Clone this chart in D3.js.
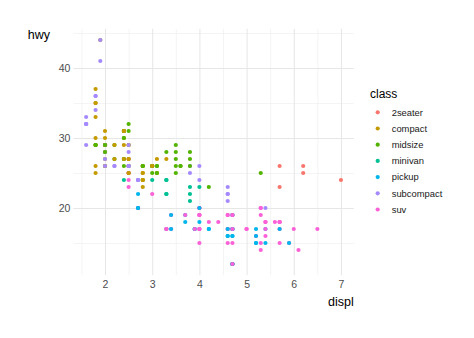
<!DOCTYPE html>
<html><head><meta charset="utf-8">
<script src="https://cdn.jsdelivr.net/npm/d3@7"></script>
<style>body{margin:0;background:#fff}svg{display:block}text{font-family:"Liberation Sans",Arial,sans-serif}</style>
</head><body><svg id="c" width="474" height="338"></svg>
<script>
const classes=["2seater","compact","midsize","minivan","pickup","subcompact","suv"];
const colors=["#F8766D","#C49A00","#53B400","#00C094","#00B6EB","#A58AFF","#FB61D7"];
const displ=[
1.8,1.8,2.0,2.0,2.8,2.8,3.1,
1.8,1.8,2.0,2.0,2.8,2.8,3.1,3.1,
2.8,3.1,4.2,
5.3,5.3,5.3,5.7,6.0,
5.7,5.7,6.2,6.2,7.0,
5.3,5.3,5.7,6.5,
2.4,2.4,3.1,3.5,3.6,
2.4,3.0,3.3,3.3,3.3,3.3,3.3,3.8,3.8,3.8,4.0,
3.7,3.7,3.9,3.9,4.7,4.7,4.7,5.2,5.2,
3.9,4.7,4.7,4.7,5.2,5.7,5.9,
4.7,4.7,4.7,4.7,4.7,4.7,5.2,5.2,5.7,5.9,
4.6,4.6,5.4,
4.0,4.0,4.0,4.0,4.6,5.0,
4.2,4.2,4.6,4.6,4.6,5.4,5.4,
3.8,3.8,4.0,4.0,4.6,4.6,4.6,4.6,5.4,
1.6,1.6,1.6,1.6,1.6,1.8,1.8,1.8,2.0,
2.4,2.4,2.4,2.4,2.5,2.5,3.3,
2.0,2.0,2.0,2.0,2.7,2.7,2.7,
3.0,3.7,4.0,4.7,4.7,4.7,5.7,6.1,
4.0,4.2,4.4,4.6,
5.4,5.4,5.4,
4.0,4.0,4.6,5.0,
2.4,2.4,2.5,2.5,3.5,3.5,
3.0,3.0,3.5,
3.3,3.3,4.0,5.6,
3.1,3.8,3.8,3.8,5.3,
2.5,2.5,2.5,2.5,2.5,2.5,
2.2,2.2,2.5,2.5,2.5,2.5,2.5,2.5,
2.7,2.7,3.4,3.4,4.0,4.7,
2.2,2.2,2.4,2.4,3.0,3.0,3.5,
2.2,2.2,2.4,2.4,3.0,3.0,3.3,
1.8,1.8,1.8,1.8,1.8,
4.7,5.7,
2.7,2.7,2.7,3.4,3.4,4.0,4.0,
2.0,2.0,2.0,2.0,2.8,
1.9,2.0,2.0,2.0,2.0,2.5,2.5,2.8,2.8,
1.9,1.9,2.0,2.0,2.5,2.5,
1.8,1.8,2.0,2.0,2.8,2.8,3.6];
const hwy=[
29,29,31,30,26,26,27,
26,25,28,27,25,25,25,25,
24,25,23,
20,15,20,17,17,
26,23,26,25,24,
19,14,15,17,
27,30,26,29,26,
24,24,22,22,24,24,17,22,21,23,23,
19,18,17,17,19,19,12,17,15,
17,17,12,17,16,18,15,
16,12,17,17,16,12,15,16,17,15,
17,17,18,
17,19,17,19,19,17,
17,17,16,16,17,15,17,
26,25,26,24,21,22,23,22,20,
33,32,32,29,32,34,36,36,29,
26,27,30,31,26,26,28,
26,29,28,27,24,24,24,
22,19,20,17,12,19,18,14,
15,18,18,15,
17,16,18,
17,19,19,17,
29,27,31,32,27,26,
26,25,25,
17,17,20,18,
26,26,27,28,25,
25,24,27,25,26,23,
26,26,26,26,25,27,25,27,
20,20,19,17,20,19,
27,29,31,31,26,26,28,
27,29,31,31,26,26,27,
30,33,35,37,35,
15,18,
20,20,22,17,19,18,20,
29,26,29,29,24,
44,29,26,29,29,29,29,23,24,
44,41,29,26,28,29,
29,29,28,29,26,26,26];
const cls=[
1,1,1,1,1,1,1,
1,1,1,1,1,1,1,1,
2,2,2,
6,6,6,6,6,
0,0,0,0,0,
6,6,6,6,
2,2,2,2,2,
3,3,3,3,3,3,3,3,3,3,3,
4,4,4,4,4,4,4,4,4,
6,6,6,6,6,6,6,
4,4,4,4,4,4,4,4,4,4,
6,6,6,
6,6,6,6,6,6,
4,4,4,4,4,4,4,
5,5,5,5,5,5,5,5,5,
5,5,5,5,5,5,5,5,5,
2,2,2,2,2,2,2,
5,5,5,5,5,5,5,
6,6,6,6,6,6,6,6,
6,6,6,6,
6,6,6,
6,6,6,6,
1,1,2,2,2,2,
2,2,2,
6,6,6,6,
2,2,2,2,2,
6,6,6,6,6,6,
5,5,5,5,1,1,1,1,
6,6,6,6,6,6,
2,2,2,2,2,2,2,
1,1,1,1,1,1,1,
1,1,1,1,1,
6,6,
4,4,4,4,4,4,4,
1,1,1,1,1,
1,1,1,1,1,1,1,1,1,
5,5,5,5,5,5,
2,2,2,2,2,2,2];
const xTicks=[2,3,4,5,6,7], xMinor=[1.5,2.5,3.5,4.5,5.5,6.5];
const yTicks=[20,30,40], yMinor=[15,25,35,45];

const svg=d3.select("#c");
const L=73.4,R=353.7,T=28.8,B=275.2;
const ex=d3.extent(displ), ey=d3.extent(hwy);
const px=(ex[1]-ex[0])*0.05, py=(ey[1]-ey[0])*0.05;
const x=d3.scaleLinear().domain([ex[0]-px,ex[1]+px]).range([L,R]);
const y=d3.scaleLinear().domain([ey[0]-py,ey[1]+py]).range([B,T]);

// grid
const g=svg.append("g");
g.append("g").attr("transform",`translate(0,${B})`)
 .call(d3.axisBottom(x).tickValues(xMinor).tickSize(-(B-T)).tickFormat(""))
 .call(s=>{s.select(".domain").remove();s.selectAll("line").attr("stroke","#ececec").attr("stroke-width",0.6);});
g.append("g").attr("transform",`translate(${L},0)`)
 .call(d3.axisLeft(y).tickValues(yMinor).tickSize(-(R-L)).tickFormat(""))
 .call(s=>{s.select(".domain").remove();s.selectAll("line").attr("stroke","#ececec").attr("stroke-width",0.6);});
g.append("g").attr("transform",`translate(0,${B})`)
 .call(d3.axisBottom(x).tickValues(xTicks).tickSize(-(B-T)).tickFormat(""))
 .call(s=>{s.select(".domain").remove();s.selectAll("line").attr("stroke","#e6e6e6").attr("stroke-width",1);});
g.append("g").attr("transform",`translate(${L},0)`)
 .call(d3.axisLeft(y).tickValues(yTicks).tickSize(-(R-L)).tickFormat(""))
 .call(s=>{s.select(".domain").remove();s.selectAll("line").attr("stroke","#e6e6e6").attr("stroke-width",1);});

// tick labels
svg.append("g").attr("transform",`translate(0,${B})`)
 .call(d3.axisBottom(x).tickValues(xTicks).tickSize(0).tickPadding(5).tickFormat(d3.format("d")))
 .call(s=>{s.select(".domain").remove();s.selectAll("text").attr("fill","#4d4d4d").attr("font-size","10.5px").attr("font-family","Liberation Sans, Arial, sans-serif");});
svg.append("g").attr("transform",`translate(${L},0)`)
 .call(d3.axisLeft(y).tickValues(yTicks).tickSize(0).tickPadding(3).tickFormat(d3.format("d")))
 .call(s=>{s.select(".domain").remove();s.selectAll("text").attr("fill","#4d4d4d").attr("font-size","10.5px").attr("font-family","Liberation Sans, Arial, sans-serif");});

// titles
svg.append("text").attr("x",50).attr("y",39).attr("text-anchor","end").attr("font-size","12.5px").attr("fill","#000").text("hwy");
svg.append("text").attr("x",R).attr("y",306).attr("text-anchor","end").attr("font-size","12.5px").attr("fill","#000").text("displ");

// points
svg.append("g").selectAll("circle").data(d3.range(displ.length)).join("circle")
 .attr("cx",i=>x(displ[i])).attr("cy",i=>y(hwy[i])).attr("r",2.1)
 .attr("fill",i=>colors[cls[i]]);

// legend
const lg=svg.append("g");
lg.append("text").attr("x",370).attr("y",97.5).attr("font-size","12px").attr("fill","#000").text("class");
const items=lg.selectAll("g.k").data(classes).join("g").attr("class","k")
 .attr("transform",(d,i)=>`translate(0,${112.3+i*16.2})`);
items.append("circle").attr("cx",377.7).attr("cy",0).attr("r",2.1).attr("fill",(d,i)=>colors[i]);
items.append("text").attr("x",391.7).attr("y",0).attr("dy","0.35em").attr("font-size","9.4px").attr("fill","#1a1a1a").text(d=>d);
</script></body></html>
